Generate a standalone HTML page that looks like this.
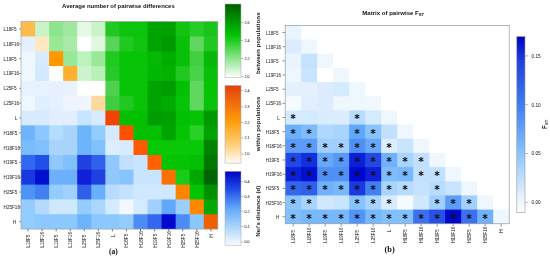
<!DOCTYPE html>
<html><head><meta charset="utf-8"><title>Pairwise differences and FST</title>
<style>
html,body{margin:0;padding:0;background:#fff;}
body{width:550px;height:259px;overflow:hidden;position:relative;}
svg{position:absolute;left:0;top:0;}
.lab{font-family:"Liberation Sans",Arial,sans-serif;font-size:4.6px;fill:#333;stroke:#333;stroke-width:0.05px;}
.labr{font-family:"Liberation Sans",Arial,sans-serif;font-size:4.5px;fill:#333;stroke:#333;stroke-width:0.05px;}
.tk2{font-family:"Liberation Sans",Arial,sans-serif;font-size:4.7px;fill:#333;stroke:#333;stroke-width:0.06px;}
.tk{font-family:"Liberation Sans",Arial,sans-serif;font-size:3.6px;fill:#333;stroke:#333;stroke-width:0.05px;}
.ttl{font-family:"Liberation Sans",Arial,sans-serif;font-weight:bold;font-size:6.05px;fill:#111;}
.cbl{font-family:"Liberation Sans",Arial,sans-serif;font-weight:bold;font-size:6.2px;fill:#222;}
.star{font-family:"DejaVu Sans",sans-serif;font-weight:bold;font-size:9.8px;fill:#111;stroke:#111;stroke-width:0.1px;}
.pl{font-family:"Liberation Serif","Times New Roman",serif;font-weight:bold;fill:#111;}
</style></head>
<body>
<svg width="550" height="259" viewBox="0 0 550 259">
<defs>
<linearGradient id="gG" x1="0" y1="0" x2="0" y2="1">
<stop offset="0" stop-color="#005E00"/><stop offset="0.42" stop-color="#00C400"/><stop offset="1" stop-color="#FFFFFF"/>
</linearGradient>
<linearGradient id="gO" x1="0" y1="0" x2="0" y2="1">
<stop offset="0" stop-color="#E4400E"/><stop offset="0.45" stop-color="#FF9A08"/><stop offset="0.72" stop-color="#FFC868"/><stop offset="1" stop-color="#FFFBF4"/>
</linearGradient>
<linearGradient id="gB" x1="0" y1="0" x2="0" y2="1">
<stop offset="0" stop-color="#0000C4"/><stop offset="0.25" stop-color="#2050E8"/><stop offset="0.5" stop-color="#62A8FA"/><stop offset="0.75" stop-color="#A8D4FC"/><stop offset="1" stop-color="#F8FBFE"/>
</linearGradient>
<linearGradient id="gR" x1="0" y1="0" x2="0" y2="1">
<stop offset="0" stop-color="#0000C4"/><stop offset="0.14" stop-color="#2040E0"/><stop offset="0.4" stop-color="#4080F0"/><stop offset="0.66" stop-color="#88C4FC"/><stop offset="0.92" stop-color="#EAF3FE"/><stop offset="1" stop-color="#FFFFFF"/>
</linearGradient>
</defs>
<text x="118.4" y="7.9" text-anchor="middle" class="ttl" style="font-size:5.95px">Average number of pairwise differences</text>
<text x="362.3" y="15.2" class="ttl">Matrix of pairwise F<tspan dy="0.7" font-size="4.2">ST</tspan></text>
<rect x="21.00" y="21.60" width="15.06" height="15.82" fill="#FDBB4C"/>
<rect x="35.06" y="21.60" width="15.06" height="15.82" fill="#C8F4C8"/>
<rect x="49.12" y="21.60" width="15.06" height="15.82" fill="#8CE48C"/>
<rect x="63.18" y="21.60" width="15.06" height="15.82" fill="#A0E8A0"/>
<rect x="77.24" y="21.60" width="15.06" height="15.82" fill="#E4FAE4"/>
<rect x="91.30" y="21.60" width="15.06" height="15.82" fill="#C8F4C8"/>
<rect x="105.36" y="21.60" width="15.06" height="15.82" fill="#22C822"/>
<rect x="119.42" y="21.60" width="15.06" height="15.82" fill="#0CC40C"/>
<rect x="133.48" y="21.60" width="15.06" height="15.82" fill="#0CC40C"/>
<rect x="147.54" y="21.60" width="15.06" height="15.82" fill="#00A400"/>
<rect x="161.60" y="21.60" width="15.06" height="15.82" fill="#00A000"/>
<rect x="175.66" y="21.60" width="15.06" height="15.82" fill="#10C410"/>
<rect x="189.72" y="21.60" width="15.06" height="15.82" fill="#28CC28"/>
<rect x="203.78" y="21.60" width="14.06" height="15.82" fill="#18C418"/>
<rect x="21.00" y="36.42" width="15.06" height="15.82" fill="#E4F0FE"/>
<rect x="35.06" y="36.42" width="15.06" height="15.82" fill="#FEE8C0"/>
<rect x="49.12" y="36.42" width="15.06" height="15.82" fill="#98E898"/>
<rect x="63.18" y="36.42" width="15.06" height="15.82" fill="#A8EAA8"/>
<rect x="77.24" y="36.42" width="15.06" height="15.82" fill="#FFFFFF"/>
<rect x="91.30" y="36.42" width="15.06" height="15.82" fill="#E0F8E0"/>
<rect x="105.36" y="36.42" width="15.06" height="15.82" fill="#58D458"/>
<rect x="119.42" y="36.42" width="15.06" height="15.82" fill="#20C820"/>
<rect x="133.48" y="36.42" width="15.06" height="15.82" fill="#10C410"/>
<rect x="147.54" y="36.42" width="15.06" height="15.82" fill="#00A400"/>
<rect x="161.60" y="36.42" width="15.06" height="15.82" fill="#009800"/>
<rect x="175.66" y="36.42" width="15.06" height="15.82" fill="#08C008"/>
<rect x="189.72" y="36.42" width="15.06" height="15.82" fill="#60D860"/>
<rect x="203.78" y="36.42" width="14.06" height="15.82" fill="#20C820"/>
<rect x="21.00" y="51.24" width="15.06" height="15.82" fill="#EEF6FE"/>
<rect x="35.06" y="51.24" width="15.06" height="15.82" fill="#D8EAFE"/>
<rect x="49.12" y="51.24" width="15.06" height="15.82" fill="#FF9800"/>
<rect x="63.18" y="51.24" width="15.06" height="15.82" fill="#98E898"/>
<rect x="77.24" y="51.24" width="15.06" height="15.82" fill="#BCF2BC"/>
<rect x="91.30" y="51.24" width="15.06" height="15.82" fill="#98E898"/>
<rect x="105.36" y="51.24" width="15.06" height="15.82" fill="#20C820"/>
<rect x="119.42" y="51.24" width="15.06" height="15.82" fill="#08C408"/>
<rect x="133.48" y="51.24" width="15.06" height="15.82" fill="#08C408"/>
<rect x="147.54" y="51.24" width="15.06" height="15.82" fill="#04B804"/>
<rect x="161.60" y="51.24" width="15.06" height="15.82" fill="#00AC00"/>
<rect x="175.66" y="51.24" width="15.06" height="15.82" fill="#08C008"/>
<rect x="189.72" y="51.24" width="15.06" height="15.82" fill="#40D040"/>
<rect x="203.78" y="51.24" width="14.06" height="15.82" fill="#08B808"/>
<rect x="21.00" y="66.06" width="15.06" height="15.82" fill="#EEF6FE"/>
<rect x="35.06" y="66.06" width="15.06" height="15.82" fill="#D4E8FE"/>
<rect x="49.12" y="66.06" width="15.06" height="15.82" fill="#FFFFFF"/>
<rect x="63.18" y="66.06" width="15.06" height="15.82" fill="#FDB030"/>
<rect x="77.24" y="66.06" width="15.06" height="15.82" fill="#CCF4CC"/>
<rect x="91.30" y="66.06" width="15.06" height="15.82" fill="#B8F0B8"/>
<rect x="105.36" y="66.06" width="15.06" height="15.82" fill="#28C828"/>
<rect x="119.42" y="66.06" width="15.06" height="15.82" fill="#08C408"/>
<rect x="133.48" y="66.06" width="15.06" height="15.82" fill="#08C408"/>
<rect x="147.54" y="66.06" width="15.06" height="15.82" fill="#00B800"/>
<rect x="161.60" y="66.06" width="15.06" height="15.82" fill="#00B400"/>
<rect x="175.66" y="66.06" width="15.06" height="15.82" fill="#20C820"/>
<rect x="189.72" y="66.06" width="15.06" height="15.82" fill="#48D448"/>
<rect x="203.78" y="66.06" width="14.06" height="15.82" fill="#08C008"/>
<rect x="21.00" y="80.88" width="15.06" height="15.82" fill="#E8F2FE"/>
<rect x="35.06" y="80.88" width="15.06" height="15.82" fill="#E8F2FE"/>
<rect x="49.12" y="80.88" width="15.06" height="15.82" fill="#E6F0FE"/>
<rect x="63.18" y="80.88" width="15.06" height="15.82" fill="#E8F2FE"/>
<rect x="77.24" y="80.88" width="15.06" height="15.82" fill="#FFFFFF"/>
<rect x="91.30" y="80.88" width="15.06" height="15.82" fill="#FFFFFF"/>
<rect x="105.36" y="80.88" width="15.06" height="15.82" fill="#50D050"/>
<rect x="119.42" y="80.88" width="15.06" height="15.82" fill="#08C408"/>
<rect x="133.48" y="80.88" width="15.06" height="15.82" fill="#08C408"/>
<rect x="147.54" y="80.88" width="15.06" height="15.82" fill="#00A400"/>
<rect x="161.60" y="80.88" width="15.06" height="15.82" fill="#009C00"/>
<rect x="175.66" y="80.88" width="15.06" height="15.82" fill="#04C004"/>
<rect x="189.72" y="80.88" width="15.06" height="15.82" fill="#60D860"/>
<rect x="203.78" y="80.88" width="14.06" height="15.82" fill="#04C404"/>
<rect x="21.00" y="95.70" width="15.06" height="15.82" fill="#EEF6FE"/>
<rect x="35.06" y="95.70" width="15.06" height="15.82" fill="#E0EEFE"/>
<rect x="49.12" y="95.70" width="15.06" height="15.82" fill="#E4F0FE"/>
<rect x="63.18" y="95.70" width="15.06" height="15.82" fill="#EEF5FE"/>
<rect x="77.24" y="95.70" width="15.06" height="15.82" fill="#EEF5FE"/>
<rect x="91.30" y="95.70" width="15.06" height="15.82" fill="#FDD89C"/>
<rect x="105.36" y="95.70" width="15.06" height="15.82" fill="#40CC40"/>
<rect x="119.42" y="95.70" width="15.06" height="15.82" fill="#20C820"/>
<rect x="133.48" y="95.70" width="15.06" height="15.82" fill="#08C408"/>
<rect x="147.54" y="95.70" width="15.06" height="15.82" fill="#00A400"/>
<rect x="161.60" y="95.70" width="15.06" height="15.82" fill="#00AC00"/>
<rect x="175.66" y="95.70" width="15.06" height="15.82" fill="#08C408"/>
<rect x="189.72" y="95.70" width="15.06" height="15.82" fill="#60D860"/>
<rect x="203.78" y="95.70" width="14.06" height="15.82" fill="#08C408"/>
<rect x="21.00" y="110.52" width="15.06" height="15.82" fill="#D8EAFE"/>
<rect x="35.06" y="110.52" width="15.06" height="15.82" fill="#D8EAFE"/>
<rect x="49.12" y="110.52" width="15.06" height="15.82" fill="#E0EEFE"/>
<rect x="63.18" y="110.52" width="15.06" height="15.82" fill="#E0EEFE"/>
<rect x="77.24" y="110.52" width="15.06" height="15.82" fill="#C8E4FE"/>
<rect x="91.30" y="110.52" width="15.06" height="15.82" fill="#D8EAFE"/>
<rect x="105.36" y="110.52" width="15.06" height="15.82" fill="#F04400"/>
<rect x="119.42" y="110.52" width="15.06" height="15.82" fill="#04C004"/>
<rect x="133.48" y="110.52" width="15.06" height="15.82" fill="#04C004"/>
<rect x="147.54" y="110.52" width="15.06" height="15.82" fill="#009C00"/>
<rect x="161.60" y="110.52" width="15.06" height="15.82" fill="#00A000"/>
<rect x="175.66" y="110.52" width="15.06" height="15.82" fill="#04C004"/>
<rect x="189.72" y="110.52" width="15.06" height="15.82" fill="#04C404"/>
<rect x="203.78" y="110.52" width="14.06" height="15.82" fill="#009800"/>
<rect x="21.00" y="125.34" width="15.06" height="15.82" fill="#6CB4FC"/>
<rect x="35.06" y="125.34" width="15.06" height="15.82" fill="#8CC8FE"/>
<rect x="49.12" y="125.34" width="15.06" height="15.82" fill="#B4DCFE"/>
<rect x="63.18" y="125.34" width="15.06" height="15.82" fill="#A8D4FC"/>
<rect x="77.24" y="125.34" width="15.06" height="15.82" fill="#6CB4FC"/>
<rect x="91.30" y="125.34" width="15.06" height="15.82" fill="#94CCFE"/>
<rect x="105.36" y="125.34" width="15.06" height="15.82" fill="#D4EAFE"/>
<rect x="119.42" y="125.34" width="15.06" height="15.82" fill="#FF5000"/>
<rect x="133.48" y="125.34" width="15.06" height="15.82" fill="#04C004"/>
<rect x="147.54" y="125.34" width="15.06" height="15.82" fill="#04C004"/>
<rect x="161.60" y="125.34" width="15.06" height="15.82" fill="#00A400"/>
<rect x="175.66" y="125.34" width="15.06" height="15.82" fill="#04C404"/>
<rect x="189.72" y="125.34" width="15.06" height="15.82" fill="#28D028"/>
<rect x="203.78" y="125.34" width="14.06" height="15.82" fill="#00A400"/>
<rect x="21.00" y="140.16" width="15.06" height="15.82" fill="#78BCFC"/>
<rect x="35.06" y="140.16" width="15.06" height="15.82" fill="#80C0FC"/>
<rect x="49.12" y="140.16" width="15.06" height="15.82" fill="#A8D4FC"/>
<rect x="63.18" y="140.16" width="15.06" height="15.82" fill="#A8D4FC"/>
<rect x="77.24" y="140.16" width="15.06" height="15.82" fill="#6CB4FC"/>
<rect x="91.30" y="140.16" width="15.06" height="15.82" fill="#80C0FC"/>
<rect x="105.36" y="140.16" width="15.06" height="15.82" fill="#DCEEFE"/>
<rect x="119.42" y="140.16" width="15.06" height="15.82" fill="#D8EAFE"/>
<rect x="133.48" y="140.16" width="15.06" height="15.82" fill="#FF5A00"/>
<rect x="147.54" y="140.16" width="15.06" height="15.82" fill="#08C808"/>
<rect x="161.60" y="140.16" width="15.06" height="15.82" fill="#08C808"/>
<rect x="175.66" y="140.16" width="15.06" height="15.82" fill="#08C808"/>
<rect x="189.72" y="140.16" width="15.06" height="15.82" fill="#08C808"/>
<rect x="203.78" y="140.16" width="14.06" height="15.82" fill="#008400"/>
<rect x="21.00" y="154.98" width="15.06" height="15.82" fill="#3068F0"/>
<rect x="35.06" y="154.98" width="15.06" height="15.82" fill="#2050E8"/>
<rect x="49.12" y="154.98" width="15.06" height="15.82" fill="#90C8FE"/>
<rect x="63.18" y="154.98" width="15.06" height="15.82" fill="#80C0FC"/>
<rect x="77.24" y="154.98" width="15.06" height="15.82" fill="#2040E0"/>
<rect x="91.30" y="154.98" width="15.06" height="15.82" fill="#3060EC"/>
<rect x="105.36" y="154.98" width="15.06" height="15.82" fill="#90C8FE"/>
<rect x="119.42" y="154.98" width="15.06" height="15.82" fill="#C0E0FE"/>
<rect x="133.48" y="154.98" width="15.06" height="15.82" fill="#C8E4FE"/>
<rect x="147.54" y="154.98" width="15.06" height="15.82" fill="#FF6000"/>
<rect x="161.60" y="154.98" width="15.06" height="15.82" fill="#04C404"/>
<rect x="175.66" y="154.98" width="15.06" height="15.82" fill="#04C404"/>
<rect x="189.72" y="154.98" width="15.06" height="15.82" fill="#04C004"/>
<rect x="203.78" y="154.98" width="14.06" height="15.82" fill="#007800"/>
<rect x="21.00" y="169.80" width="15.06" height="15.82" fill="#1838E0"/>
<rect x="35.06" y="169.80" width="15.06" height="15.82" fill="#0010D0"/>
<rect x="49.12" y="169.80" width="15.06" height="15.82" fill="#6CB0FC"/>
<rect x="63.18" y="169.80" width="15.06" height="15.82" fill="#6CB0FC"/>
<rect x="77.24" y="169.80" width="15.06" height="15.82" fill="#1020D8"/>
<rect x="91.30" y="169.80" width="15.06" height="15.82" fill="#2040E0"/>
<rect x="105.36" y="169.80" width="15.06" height="15.82" fill="#90C8FC"/>
<rect x="119.42" y="169.80" width="15.06" height="15.82" fill="#88C4FC"/>
<rect x="133.48" y="169.80" width="15.06" height="15.82" fill="#C8E4FE"/>
<rect x="147.54" y="169.80" width="15.06" height="15.82" fill="#C8E4FE"/>
<rect x="161.60" y="169.80" width="15.06" height="15.82" fill="#FF7000"/>
<rect x="175.66" y="169.80" width="15.06" height="15.82" fill="#18CC18"/>
<rect x="189.72" y="169.80" width="15.06" height="15.82" fill="#00A800"/>
<rect x="203.78" y="169.80" width="14.06" height="15.82" fill="#006400"/>
<rect x="21.00" y="184.62" width="15.06" height="15.82" fill="#4C94F8"/>
<rect x="35.06" y="184.62" width="15.06" height="15.82" fill="#4080F0"/>
<rect x="49.12" y="184.62" width="15.06" height="15.82" fill="#94CCFE"/>
<rect x="63.18" y="184.62" width="15.06" height="15.82" fill="#A0D0FE"/>
<rect x="77.24" y="184.62" width="15.06" height="15.82" fill="#3060E8"/>
<rect x="91.30" y="184.62" width="15.06" height="15.82" fill="#68B0FC"/>
<rect x="105.36" y="184.62" width="15.06" height="15.82" fill="#B8DCFE"/>
<rect x="119.42" y="184.62" width="15.06" height="15.82" fill="#C4E2FE"/>
<rect x="133.48" y="184.62" width="15.06" height="15.82" fill="#D0E8FE"/>
<rect x="147.54" y="184.62" width="15.06" height="15.82" fill="#D0E8FE"/>
<rect x="161.60" y="184.62" width="15.06" height="15.82" fill="#D0E8FE"/>
<rect x="175.66" y="184.62" width="15.06" height="15.82" fill="#FF8400"/>
<rect x="189.72" y="184.62" width="15.06" height="15.82" fill="#00C400"/>
<rect x="203.78" y="184.62" width="14.06" height="15.82" fill="#009000"/>
<rect x="21.00" y="199.44" width="15.06" height="15.82" fill="#94CCFE"/>
<rect x="35.06" y="199.44" width="15.06" height="15.82" fill="#B4DAFE"/>
<rect x="49.12" y="199.44" width="15.06" height="15.82" fill="#D0E8FE"/>
<rect x="63.18" y="199.44" width="15.06" height="15.82" fill="#D0E8FE"/>
<rect x="77.24" y="199.44" width="15.06" height="15.82" fill="#94CCFE"/>
<rect x="91.30" y="199.44" width="15.06" height="15.82" fill="#ACD6FE"/>
<rect x="105.36" y="199.44" width="15.06" height="15.82" fill="#D4EAFE"/>
<rect x="119.42" y="199.44" width="15.06" height="15.82" fill="#F4F8FE"/>
<rect x="133.48" y="199.44" width="15.06" height="15.82" fill="#D4EAFE"/>
<rect x="147.54" y="199.44" width="15.06" height="15.82" fill="#A0D0FE"/>
<rect x="161.60" y="199.44" width="15.06" height="15.82" fill="#60A8FC"/>
<rect x="175.66" y="199.44" width="15.06" height="15.82" fill="#9CCEFE"/>
<rect x="189.72" y="199.44" width="15.06" height="15.82" fill="#FF8800"/>
<rect x="203.78" y="199.44" width="14.06" height="15.82" fill="#06A806"/>
<rect x="21.00" y="214.26" width="15.06" height="14.82" fill="#94CCFE"/>
<rect x="35.06" y="214.26" width="15.06" height="14.82" fill="#8CC8FE"/>
<rect x="49.12" y="214.26" width="15.06" height="14.82" fill="#8CC8FE"/>
<rect x="63.18" y="214.26" width="15.06" height="14.82" fill="#8CC8FE"/>
<rect x="77.24" y="214.26" width="15.06" height="14.82" fill="#6CB4FC"/>
<rect x="91.30" y="214.26" width="15.06" height="14.82" fill="#8CC8FE"/>
<rect x="105.36" y="214.26" width="15.06" height="14.82" fill="#8CC8FE"/>
<rect x="119.42" y="214.26" width="15.06" height="14.82" fill="#94CCFE"/>
<rect x="133.48" y="214.26" width="15.06" height="14.82" fill="#4C8CF4"/>
<rect x="147.54" y="214.26" width="15.06" height="14.82" fill="#3468EC"/>
<rect x="161.60" y="214.26" width="15.06" height="14.82" fill="#0008D0"/>
<rect x="175.66" y="214.26" width="15.06" height="14.82" fill="#4C8CF4"/>
<rect x="189.72" y="214.26" width="15.06" height="14.82" fill="#88C8FE"/>
<rect x="203.78" y="214.26" width="14.06" height="14.82" fill="#F06000"/>
<rect x="21.00" y="21.60" width="196.84" height="207.48" fill="none" stroke="#9a9a9a" stroke-width="0.6"/>
<line x1="19.00" y1="29.01" x2="21.00" y2="29.01" stroke="#555" stroke-width="0.6"/>
<text x="3.6" y="31.01" class="lab">L18F5</text>
<line x1="19.00" y1="43.83" x2="21.00" y2="43.83" stroke="#555" stroke-width="0.6"/>
<text x="3.6" y="45.83" class="lab">L18F16</text>
<line x1="19.00" y1="58.65" x2="21.00" y2="58.65" stroke="#555" stroke-width="0.6"/>
<text x="3.6" y="60.65" class="lab">L19F5</text>
<line x1="19.00" y1="73.47" x2="21.00" y2="73.47" stroke="#555" stroke-width="0.6"/>
<text x="3.6" y="75.47" class="lab">L19F16</text>
<line x1="19.00" y1="88.29" x2="21.00" y2="88.29" stroke="#555" stroke-width="0.6"/>
<text x="3.6" y="90.29" class="lab">L25F5</text>
<line x1="19.00" y1="103.11" x2="21.00" y2="103.11" stroke="#555" stroke-width="0.6"/>
<text x="3.6" y="105.11" class="lab">L25F16</text>
<line x1="19.00" y1="117.93" x2="21.00" y2="117.93" stroke="#555" stroke-width="0.6"/>
<text x="17.3" y="119.93" text-anchor="end" class="lab">L</text>
<line x1="19.00" y1="132.75" x2="21.00" y2="132.75" stroke="#555" stroke-width="0.6"/>
<text x="3.6" y="134.75" class="lab">H18F5</text>
<line x1="19.00" y1="147.57" x2="21.00" y2="147.57" stroke="#555" stroke-width="0.6"/>
<text x="3.6" y="149.57" class="lab">H18F16</text>
<line x1="19.00" y1="162.39" x2="21.00" y2="162.39" stroke="#555" stroke-width="0.6"/>
<text x="3.6" y="164.39" class="lab">H19F5</text>
<line x1="19.00" y1="177.21" x2="21.00" y2="177.21" stroke="#555" stroke-width="0.6"/>
<text x="3.6" y="179.21" class="lab">H19F16</text>
<line x1="19.00" y1="192.03" x2="21.00" y2="192.03" stroke="#555" stroke-width="0.6"/>
<text x="3.6" y="194.03" class="lab">H25F5</text>
<line x1="19.00" y1="206.85" x2="21.00" y2="206.85" stroke="#555" stroke-width="0.6"/>
<text x="3.6" y="208.85" class="lab">H25F16</text>
<line x1="19.00" y1="221.67" x2="21.00" y2="221.67" stroke="#555" stroke-width="0.6"/>
<text x="16.2" y="223.67" text-anchor="end" class="lab">H</text>
<line x1="28.03" y1="229.08" x2="28.03" y2="231.38" stroke="#555" stroke-width="0.8"/>
<text transform="translate(30.03,247.6) rotate(-90)" class="lab">L18F5</text>
<line x1="42.09" y1="229.08" x2="42.09" y2="231.38" stroke="#555" stroke-width="0.8"/>
<text transform="translate(44.09,247.6) rotate(-90)" class="lab">L18F16</text>
<line x1="56.15" y1="229.08" x2="56.15" y2="231.38" stroke="#555" stroke-width="0.8"/>
<text transform="translate(58.15,247.6) rotate(-90)" class="lab">L19F5</text>
<line x1="70.21" y1="229.08" x2="70.21" y2="231.38" stroke="#555" stroke-width="0.8"/>
<text transform="translate(72.21,247.6) rotate(-90)" class="lab">L19F16</text>
<line x1="84.27" y1="229.08" x2="84.27" y2="231.38" stroke="#555" stroke-width="0.8"/>
<text transform="translate(86.27,247.6) rotate(-90)" class="lab">L25F5</text>
<line x1="98.33" y1="229.08" x2="98.33" y2="231.38" stroke="#555" stroke-width="0.8"/>
<text transform="translate(100.33,247.6) rotate(-90)" class="lab">L25F16</text>
<line x1="112.39" y1="229.08" x2="112.39" y2="231.38" stroke="#555" stroke-width="0.8"/>
<text transform="translate(114.59,234.08) rotate(-90)" text-anchor="end" class="lab">L</text>
<line x1="126.45" y1="229.08" x2="126.45" y2="231.38" stroke="#555" stroke-width="0.8"/>
<text transform="translate(128.45,247.6) rotate(-90)" class="lab">H18F5</text>
<line x1="140.51" y1="229.08" x2="140.51" y2="231.38" stroke="#555" stroke-width="0.8"/>
<text transform="translate(142.51,247.6) rotate(-90)" class="lab">H18F16</text>
<line x1="154.57" y1="229.08" x2="154.57" y2="231.38" stroke="#555" stroke-width="0.8"/>
<text transform="translate(156.57,247.6) rotate(-90)" class="lab">H19F5</text>
<line x1="168.63" y1="229.08" x2="168.63" y2="231.38" stroke="#555" stroke-width="0.8"/>
<text transform="translate(170.63,247.6) rotate(-90)" class="lab">H19F16</text>
<line x1="182.69" y1="229.08" x2="182.69" y2="231.38" stroke="#555" stroke-width="0.8"/>
<text transform="translate(184.69,247.6) rotate(-90)" class="lab">H25F5</text>
<line x1="196.75" y1="229.08" x2="196.75" y2="231.38" stroke="#555" stroke-width="0.8"/>
<text transform="translate(198.75,247.6) rotate(-90)" class="lab">H25F16</text>
<line x1="210.81" y1="229.08" x2="210.81" y2="231.38" stroke="#555" stroke-width="0.8"/>
<text transform="translate(213.01,234.08) rotate(-90)" text-anchor="end" class="lab">H</text>
<rect x="285.20" y="25.40" width="16.00" height="15.17" fill="#E8F4FE"/>
<rect x="285.20" y="39.57" width="17.00" height="15.17" fill="#DCECFE"/>
<rect x="301.20" y="39.57" width="16.00" height="15.17" fill="#EEF6FE"/>
<rect x="285.20" y="53.74" width="17.00" height="15.17" fill="#E8F4FE"/>
<rect x="301.20" y="53.74" width="17.00" height="15.17" fill="#C4E2FE"/>
<rect x="317.20" y="53.74" width="16.00" height="15.17" fill="#EEF6FE"/>
<rect x="285.20" y="67.91" width="17.00" height="15.17" fill="#EEF6FE"/>
<rect x="301.20" y="67.91" width="17.00" height="15.17" fill="#C8E4FE"/>
<rect x="317.20" y="67.91" width="17.00" height="15.17" fill="#FFFFFF"/>
<rect x="333.20" y="67.91" width="16.00" height="15.17" fill="#EEF6FE"/>
<rect x="285.20" y="82.08" width="17.00" height="15.17" fill="#E4F0FE"/>
<rect x="301.20" y="82.08" width="17.00" height="15.17" fill="#E4F0FE"/>
<rect x="317.20" y="82.08" width="17.00" height="15.17" fill="#DCECFE"/>
<rect x="333.20" y="82.08" width="17.00" height="15.17" fill="#D4EAFE"/>
<rect x="349.20" y="82.08" width="16.00" height="15.17" fill="#EEF6FE"/>
<rect x="285.20" y="96.25" width="17.00" height="15.17" fill="#F4FAFE"/>
<rect x="301.20" y="96.25" width="17.00" height="15.17" fill="#E0EEFE"/>
<rect x="317.20" y="96.25" width="17.00" height="15.17" fill="#DCECFE"/>
<rect x="333.20" y="96.25" width="17.00" height="15.17" fill="#EEF6FE"/>
<rect x="349.20" y="96.25" width="17.00" height="15.17" fill="#EEF6FE"/>
<rect x="365.20" y="96.25" width="16.00" height="15.17" fill="#F0F8FE"/>
<rect x="285.20" y="110.42" width="17.00" height="15.17" fill="#D4EAFE"/>
<rect x="301.20" y="110.42" width="17.00" height="15.17" fill="#D4EAFE"/>
<rect x="317.20" y="110.42" width="17.00" height="15.17" fill="#D8ECFE"/>
<rect x="333.20" y="110.42" width="17.00" height="15.17" fill="#DCECFE"/>
<rect x="349.20" y="110.42" width="17.00" height="15.17" fill="#B8DCFE"/>
<rect x="365.20" y="110.42" width="17.00" height="15.17" fill="#D4EAFE"/>
<rect x="381.20" y="110.42" width="16.00" height="15.17" fill="#EEF6FE"/>
<rect x="285.20" y="124.59" width="17.00" height="15.17" fill="#6CB0FC"/>
<rect x="301.20" y="124.59" width="17.00" height="15.17" fill="#7CBCFC"/>
<rect x="317.20" y="124.59" width="17.00" height="15.17" fill="#B0D8FE"/>
<rect x="333.20" y="124.59" width="17.00" height="15.17" fill="#A8D4FE"/>
<rect x="349.20" y="124.59" width="17.00" height="15.17" fill="#60A8FC"/>
<rect x="365.20" y="124.59" width="17.00" height="15.17" fill="#88C4FC"/>
<rect x="381.20" y="124.59" width="17.00" height="15.17" fill="#C0E0FE"/>
<rect x="397.20" y="124.59" width="16.00" height="15.17" fill="#EEF6FE"/>
<rect x="285.20" y="138.76" width="17.00" height="15.17" fill="#5C9CF8"/>
<rect x="301.20" y="138.76" width="17.00" height="15.17" fill="#5C9CF8"/>
<rect x="317.20" y="138.76" width="17.00" height="15.17" fill="#A0CEFE"/>
<rect x="333.20" y="138.76" width="17.00" height="15.17" fill="#A0CEFE"/>
<rect x="349.20" y="138.76" width="17.00" height="15.17" fill="#5090F4"/>
<rect x="365.20" y="138.76" width="17.00" height="15.17" fill="#68A8FC"/>
<rect x="381.20" y="138.76" width="17.00" height="15.17" fill="#DCEEFE"/>
<rect x="397.20" y="138.76" width="17.00" height="15.17" fill="#C8E4FE"/>
<rect x="413.20" y="138.76" width="16.00" height="15.17" fill="#EEF6FE"/>
<rect x="285.20" y="152.93" width="17.00" height="15.17" fill="#2048E8"/>
<rect x="301.20" y="152.93" width="17.00" height="15.17" fill="#1030E0"/>
<rect x="317.20" y="152.93" width="17.00" height="15.17" fill="#68A8FC"/>
<rect x="333.20" y="152.93" width="17.00" height="15.17" fill="#5898F8"/>
<rect x="349.20" y="152.93" width="17.00" height="15.17" fill="#0C20D8"/>
<rect x="365.20" y="152.93" width="17.00" height="15.17" fill="#2448E4"/>
<rect x="381.20" y="152.93" width="17.00" height="15.17" fill="#70B0FC"/>
<rect x="397.20" y="152.93" width="17.00" height="15.17" fill="#A8D4FE"/>
<rect x="413.20" y="152.93" width="17.00" height="15.17" fill="#C0E0FE"/>
<rect x="429.20" y="152.93" width="16.00" height="15.17" fill="#EEF6FE"/>
<rect x="285.20" y="167.10" width="17.00" height="15.17" fill="#0C20D8"/>
<rect x="301.20" y="167.10" width="17.00" height="15.17" fill="#0410D0"/>
<rect x="317.20" y="167.10" width="17.00" height="15.17" fill="#5090F4"/>
<rect x="333.20" y="167.10" width="17.00" height="15.17" fill="#5090F4"/>
<rect x="349.20" y="167.10" width="17.00" height="15.17" fill="#0008D0"/>
<rect x="365.20" y="167.10" width="17.00" height="15.17" fill="#1020D8"/>
<rect x="381.20" y="167.10" width="17.00" height="15.17" fill="#80BCFC"/>
<rect x="397.20" y="167.10" width="17.00" height="15.17" fill="#78B8FC"/>
<rect x="413.20" y="167.10" width="17.00" height="15.17" fill="#C0E0FE"/>
<rect x="429.20" y="167.10" width="17.00" height="15.17" fill="#C0E0FE"/>
<rect x="445.20" y="167.10" width="16.00" height="15.17" fill="#EEF6FE"/>
<rect x="285.20" y="181.27" width="17.00" height="15.17" fill="#3468EC"/>
<rect x="301.20" y="181.27" width="17.00" height="15.17" fill="#3060EC"/>
<rect x="317.20" y="181.27" width="17.00" height="15.17" fill="#70B0FC"/>
<rect x="333.20" y="181.27" width="17.00" height="15.17" fill="#78B8FC"/>
<rect x="349.20" y="181.27" width="17.00" height="15.17" fill="#1C38E0"/>
<rect x="365.20" y="181.27" width="17.00" height="15.17" fill="#4080F0"/>
<rect x="381.20" y="181.27" width="17.00" height="15.17" fill="#A8D4FE"/>
<rect x="397.20" y="181.27" width="17.00" height="15.17" fill="#B8DCFE"/>
<rect x="413.20" y="181.27" width="17.00" height="15.17" fill="#C4E2FE"/>
<rect x="429.20" y="181.27" width="17.00" height="15.17" fill="#B8DCFE"/>
<rect x="445.20" y="181.27" width="17.00" height="15.17" fill="#C8E4FE"/>
<rect x="461.20" y="181.27" width="16.00" height="15.17" fill="#EEF6FE"/>
<rect x="285.20" y="195.44" width="17.00" height="15.17" fill="#8CC4FC"/>
<rect x="301.20" y="195.44" width="17.00" height="15.17" fill="#A8D4FE"/>
<rect x="317.20" y="195.44" width="17.00" height="15.17" fill="#D0E8FE"/>
<rect x="333.20" y="195.44" width="17.00" height="15.17" fill="#C8E4FE"/>
<rect x="349.20" y="195.44" width="17.00" height="15.17" fill="#88C4FC"/>
<rect x="365.20" y="195.44" width="17.00" height="15.17" fill="#A8D4FE"/>
<rect x="381.20" y="195.44" width="17.00" height="15.17" fill="#D8ECFE"/>
<rect x="397.20" y="195.44" width="17.00" height="15.17" fill="#F4FAFE"/>
<rect x="413.20" y="195.44" width="17.00" height="15.17" fill="#D0E8FE"/>
<rect x="429.20" y="195.44" width="17.00" height="15.17" fill="#A0D0FE"/>
<rect x="445.20" y="195.44" width="17.00" height="15.17" fill="#5C9CF8"/>
<rect x="461.20" y="195.44" width="17.00" height="15.17" fill="#A0D0FE"/>
<rect x="477.20" y="195.44" width="16.00" height="15.17" fill="#EEF6FE"/>
<rect x="285.20" y="209.61" width="17.00" height="14.17" fill="#80BEFC"/>
<rect x="301.20" y="209.61" width="17.00" height="14.17" fill="#78B8FC"/>
<rect x="317.20" y="209.61" width="17.00" height="14.17" fill="#78B8FC"/>
<rect x="333.20" y="209.61" width="17.00" height="14.17" fill="#78B8FC"/>
<rect x="349.20" y="209.61" width="17.00" height="14.17" fill="#5494F8"/>
<rect x="365.20" y="209.61" width="17.00" height="14.17" fill="#78B8FC"/>
<rect x="381.20" y="209.61" width="17.00" height="14.17" fill="#80C0FC"/>
<rect x="397.20" y="209.61" width="17.00" height="14.17" fill="#80C0FC"/>
<rect x="413.20" y="209.61" width="17.00" height="14.17" fill="#3C70F0"/>
<rect x="429.20" y="209.61" width="17.00" height="14.17" fill="#2850E8"/>
<rect x="445.20" y="209.61" width="17.00" height="14.17" fill="#0008C8"/>
<rect x="461.20" y="209.61" width="17.00" height="14.17" fill="#3C70F0"/>
<rect x="477.20" y="209.61" width="17.00" height="14.17" fill="#70B0FC"/>
<rect x="493.20" y="209.61" width="16.00" height="14.17" fill="#EEF6FE"/>
<text x="293.00" y="122.35" text-anchor="middle" class="star">*</text>
<text x="357.00" y="122.35" text-anchor="middle" class="star">*</text>
<text x="293.00" y="136.53" text-anchor="middle" class="star">*</text>
<text x="309.00" y="136.53" text-anchor="middle" class="star">*</text>
<text x="357.00" y="136.53" text-anchor="middle" class="star">*</text>
<text x="373.00" y="136.53" text-anchor="middle" class="star">*</text>
<text x="293.00" y="150.69" text-anchor="middle" class="star">*</text>
<text x="309.00" y="150.69" text-anchor="middle" class="star">*</text>
<text x="325.00" y="150.69" text-anchor="middle" class="star">*</text>
<text x="341.00" y="150.69" text-anchor="middle" class="star">*</text>
<text x="357.00" y="150.69" text-anchor="middle" class="star">*</text>
<text x="373.00" y="150.69" text-anchor="middle" class="star">*</text>
<text x="389.00" y="150.69" text-anchor="middle" class="star">*</text>
<text x="293.00" y="164.87" text-anchor="middle" class="star">*</text>
<text x="309.00" y="164.87" text-anchor="middle" class="star">*</text>
<text x="325.00" y="164.87" text-anchor="middle" class="star">*</text>
<text x="341.00" y="164.87" text-anchor="middle" class="star">*</text>
<text x="357.00" y="164.87" text-anchor="middle" class="star">*</text>
<text x="373.00" y="164.87" text-anchor="middle" class="star">*</text>
<text x="389.00" y="164.87" text-anchor="middle" class="star">*</text>
<text x="405.00" y="164.87" text-anchor="middle" class="star">*</text>
<text x="421.00" y="164.87" text-anchor="middle" class="star">*</text>
<text x="293.00" y="179.03" text-anchor="middle" class="star">*</text>
<text x="309.00" y="179.03" text-anchor="middle" class="star">*</text>
<text x="325.00" y="179.03" text-anchor="middle" class="star">*</text>
<text x="341.00" y="179.03" text-anchor="middle" class="star">*</text>
<text x="357.00" y="179.03" text-anchor="middle" class="star">*</text>
<text x="373.00" y="179.03" text-anchor="middle" class="star">*</text>
<text x="389.00" y="179.03" text-anchor="middle" class="star">*</text>
<text x="405.00" y="179.03" text-anchor="middle" class="star">*</text>
<text x="421.00" y="179.03" text-anchor="middle" class="star">*</text>
<text x="437.00" y="179.03" text-anchor="middle" class="star">*</text>
<text x="293.00" y="193.21" text-anchor="middle" class="star">*</text>
<text x="309.00" y="193.21" text-anchor="middle" class="star">*</text>
<text x="325.00" y="193.21" text-anchor="middle" class="star">*</text>
<text x="341.00" y="193.21" text-anchor="middle" class="star">*</text>
<text x="357.00" y="193.21" text-anchor="middle" class="star">*</text>
<text x="373.00" y="193.21" text-anchor="middle" class="star">*</text>
<text x="389.00" y="193.21" text-anchor="middle" class="star">*</text>
<text x="405.00" y="193.21" text-anchor="middle" class="star">*</text>
<text x="437.00" y="193.21" text-anchor="middle" class="star">*</text>
<text x="293.00" y="207.38" text-anchor="middle" class="star">*</text>
<text x="309.00" y="207.38" text-anchor="middle" class="star">*</text>
<text x="357.00" y="207.38" text-anchor="middle" class="star">*</text>
<text x="373.00" y="207.38" text-anchor="middle" class="star">*</text>
<text x="389.00" y="207.38" text-anchor="middle" class="star">*</text>
<text x="437.00" y="207.38" text-anchor="middle" class="star">*</text>
<text x="453.00" y="207.38" text-anchor="middle" class="star">*</text>
<text x="469.00" y="207.38" text-anchor="middle" class="star">*</text>
<text x="293.00" y="221.54" text-anchor="middle" class="star">*</text>
<text x="309.00" y="221.54" text-anchor="middle" class="star">*</text>
<text x="325.00" y="221.54" text-anchor="middle" class="star">*</text>
<text x="341.00" y="221.54" text-anchor="middle" class="star">*</text>
<text x="357.00" y="221.54" text-anchor="middle" class="star">*</text>
<text x="373.00" y="221.54" text-anchor="middle" class="star">*</text>
<text x="389.00" y="221.54" text-anchor="middle" class="star">*</text>
<text x="405.00" y="221.54" text-anchor="middle" class="star">*</text>
<text x="421.00" y="221.54" text-anchor="middle" class="star">*</text>
<text x="437.00" y="221.54" text-anchor="middle" class="star">*</text>
<text x="453.00" y="221.54" text-anchor="middle" class="star">*</text>
<text x="469.00" y="221.54" text-anchor="middle" class="star">*</text>
<text x="485.00" y="221.54" text-anchor="middle" class="star">*</text>
<rect x="285.20" y="25.40" width="224.00" height="198.38" fill="none" stroke="#999" stroke-width="0.7"/>
<line x1="282.30" y1="32.48" x2="285.20" y2="32.48" stroke="#555" stroke-width="0.6"/>
<text x="265.8" y="34.59" class="labr">L18F5</text>
<line x1="282.30" y1="46.66" x2="285.20" y2="46.66" stroke="#555" stroke-width="0.6"/>
<text x="265.8" y="48.76" class="labr">L18F16</text>
<line x1="282.30" y1="60.82" x2="285.20" y2="60.82" stroke="#555" stroke-width="0.6"/>
<text x="265.8" y="62.92" class="labr">L19F5</text>
<line x1="282.30" y1="75.00" x2="285.20" y2="75.00" stroke="#555" stroke-width="0.6"/>
<text x="265.8" y="77.09" class="labr">L19F16</text>
<line x1="282.30" y1="89.16" x2="285.20" y2="89.16" stroke="#555" stroke-width="0.6"/>
<text x="265.8" y="91.26" class="labr">L25F5</text>
<line x1="282.30" y1="103.34" x2="285.20" y2="103.34" stroke="#555" stroke-width="0.6"/>
<text x="265.8" y="105.44" class="labr">L25F16</text>
<line x1="282.30" y1="117.50" x2="285.20" y2="117.50" stroke="#555" stroke-width="0.6"/>
<text x="279.8" y="119.60" text-anchor="end" class="labr">L</text>
<line x1="282.30" y1="131.68" x2="285.20" y2="131.68" stroke="#555" stroke-width="0.6"/>
<text x="265.8" y="133.78" class="labr">H18F5</text>
<line x1="282.30" y1="145.84" x2="285.20" y2="145.84" stroke="#555" stroke-width="0.6"/>
<text x="265.8" y="147.94" class="labr">H18F16</text>
<line x1="282.30" y1="160.02" x2="285.20" y2="160.02" stroke="#555" stroke-width="0.6"/>
<text x="265.8" y="162.12" class="labr">H19F5</text>
<line x1="282.30" y1="174.19" x2="285.20" y2="174.19" stroke="#555" stroke-width="0.6"/>
<text x="265.8" y="176.28" class="labr">H19F16</text>
<line x1="282.30" y1="188.36" x2="285.20" y2="188.36" stroke="#555" stroke-width="0.6"/>
<text x="265.8" y="190.46" class="labr">H25F5</text>
<line x1="282.30" y1="202.53" x2="285.20" y2="202.53" stroke="#555" stroke-width="0.6"/>
<text x="265.8" y="204.62" class="labr">H25F16</text>
<line x1="282.30" y1="216.69" x2="285.20" y2="216.69" stroke="#555" stroke-width="0.6"/>
<text x="279.3" y="218.79" text-anchor="end" class="labr">H</text>
<line x1="293.20" y1="223.78" x2="293.20" y2="226.68" stroke="#555" stroke-width="0.6"/>
<text transform="translate(294.80,242.7) rotate(-90)" class="labr">L18F5</text>
<line x1="309.20" y1="223.78" x2="309.20" y2="226.68" stroke="#555" stroke-width="0.6"/>
<text transform="translate(310.80,242.7) rotate(-90)" class="labr">L18F16</text>
<line x1="325.20" y1="223.78" x2="325.20" y2="226.68" stroke="#555" stroke-width="0.6"/>
<text transform="translate(326.80,242.7) rotate(-90)" class="labr">L19F5</text>
<line x1="341.20" y1="223.78" x2="341.20" y2="226.68" stroke="#555" stroke-width="0.6"/>
<text transform="translate(342.80,242.7) rotate(-90)" class="labr">L19F16</text>
<line x1="357.20" y1="223.78" x2="357.20" y2="226.68" stroke="#555" stroke-width="0.6"/>
<text transform="translate(358.80,242.7) rotate(-90)" class="labr">L25F5</text>
<line x1="373.20" y1="223.78" x2="373.20" y2="226.68" stroke="#555" stroke-width="0.6"/>
<text transform="translate(374.80,242.7) rotate(-90)" class="labr">L25F16</text>
<line x1="389.20" y1="223.78" x2="389.20" y2="226.68" stroke="#555" stroke-width="0.6"/>
<text transform="translate(390.80,229.58) rotate(-90)" text-anchor="end" class="labr">L</text>
<line x1="405.20" y1="223.78" x2="405.20" y2="226.68" stroke="#555" stroke-width="0.6"/>
<text transform="translate(406.80,242.7) rotate(-90)" class="labr">H18F5</text>
<line x1="421.20" y1="223.78" x2="421.20" y2="226.68" stroke="#555" stroke-width="0.6"/>
<text transform="translate(422.80,242.7) rotate(-90)" class="labr">H18F16</text>
<line x1="437.20" y1="223.78" x2="437.20" y2="226.68" stroke="#555" stroke-width="0.6"/>
<text transform="translate(438.80,242.7) rotate(-90)" class="labr">H19F5</text>
<line x1="453.20" y1="223.78" x2="453.20" y2="226.68" stroke="#555" stroke-width="0.6"/>
<text transform="translate(454.80,242.7) rotate(-90)" class="labr">H19F16</text>
<line x1="469.20" y1="223.78" x2="469.20" y2="226.68" stroke="#555" stroke-width="0.6"/>
<text transform="translate(470.80,242.7) rotate(-90)" class="labr">H25F5</text>
<line x1="485.20" y1="223.78" x2="485.20" y2="226.68" stroke="#555" stroke-width="0.6"/>
<text transform="translate(486.80,242.7) rotate(-90)" class="labr">H25F16</text>
<line x1="501.20" y1="223.78" x2="501.20" y2="226.68" stroke="#555" stroke-width="0.6"/>
<text transform="translate(502.80,229.58) rotate(-90)" text-anchor="end" class="labr">H</text>
<!-- left colorbars -->
<rect x="225" y="4" width="16" height="73.6" fill="url(#gG)" stroke="#aaa" stroke-width="0.5"/>
<rect x="225" y="85.5" width="16" height="77.6" fill="url(#gO)" stroke="#aaa" stroke-width="0.5"/>
<rect x="225" y="171.3" width="16" height="73.9" fill="url(#gB)" stroke="#aaa" stroke-width="0.5"/>
<g stroke="#777" stroke-width="0.5">
<line x1="241" y1="22.6" x2="243.2" y2="22.6"/><line x1="241" y1="40.5" x2="243.2" y2="40.5"/><line x1="241" y1="58.5" x2="243.2" y2="58.5"/><line x1="241" y1="76.5" x2="243.2" y2="76.5"/>
<line x1="241" y1="90.4" x2="243.2" y2="90.4"/><line x1="241" y1="106.8" x2="243.2" y2="106.8"/><line x1="241" y1="122.5" x2="243.2" y2="122.5"/><line x1="241" y1="138" x2="243.2" y2="138"/><line x1="241" y1="154" x2="243.2" y2="154"/>
<line x1="241" y1="181.8" x2="243.2" y2="181.8"/><line x1="241" y1="196.6" x2="243.2" y2="196.6"/><line x1="241" y1="211.3" x2="243.2" y2="211.3"/><line x1="241" y1="226.4" x2="243.2" y2="226.4"/><line x1="241" y1="242" x2="243.2" y2="242"/>
<line x1="525" y1="55.9" x2="528.3" y2="55.9"/><line x1="525" y1="104.7" x2="528.3" y2="104.7"/><line x1="525" y1="153.5" x2="528.3" y2="153.5"/><line x1="525" y1="202.3" x2="528.3" y2="202.3"/>
</g>
<text x="244.6" y="23.9" class="tk">2.6</text><text x="244.6" y="41.8" class="tk">2.4</text><text x="244.6" y="59.8" class="tk">2.2</text><text x="244.6" y="77.8" class="tk">2.0</text>
<text x="244.6" y="91.7" class="tk">2.4</text><text x="244.6" y="108.1" class="tk">2.3</text><text x="244.6" y="123.8" class="tk">2.2</text><text x="244.6" y="139.3" class="tk">2.1</text><text x="244.6" y="155.3" class="tk">2.0</text>
<text x="244.6" y="183.1" class="tk">0.4</text><text x="244.6" y="197.9" class="tk">0.3</text><text x="244.6" y="212.6" class="tk">0.2</text><text x="244.6" y="227.7" class="tk">0.1</text><text x="244.6" y="243.3" class="tk">0.0</text>
<text transform="translate(260.3,43.2) rotate(-90)" text-anchor="middle" class="cbl">between populations</text>
<text transform="translate(260.4,124) rotate(-90)" text-anchor="middle" class="cbl">within populations</text>
<text transform="translate(260.4,211.2) rotate(-90)" text-anchor="middle" class="cbl">Nei's distance (d)</text>
<!-- right colorbar -->
<rect x="516.8" y="36.6" width="8.2" height="176.1" fill="url(#gR)" stroke="#999" stroke-width="0.6"/>
<text x="531.6" y="57.7" class="tk2">0.15</text><text x="531.6" y="106.5" class="tk2">0.10</text><text x="531.6" y="155.3" class="tk2">0.05</text><text x="531.6" y="204.1" class="tk2">0.00</text>
<text transform="translate(546.6,128.9) rotate(-90)" class="cbl" style="font-size:6.3px">F<tspan dy="1.0" font-size="4.1">ST</tspan></text>
<text x="113.4" y="254.3" text-anchor="middle" font-size="7.5" class="pl">(a)</text>
<text x="389.6" y="252.0" text-anchor="middle" font-size="8.4" class="pl">(b)</text>
</svg>
</body></html>
